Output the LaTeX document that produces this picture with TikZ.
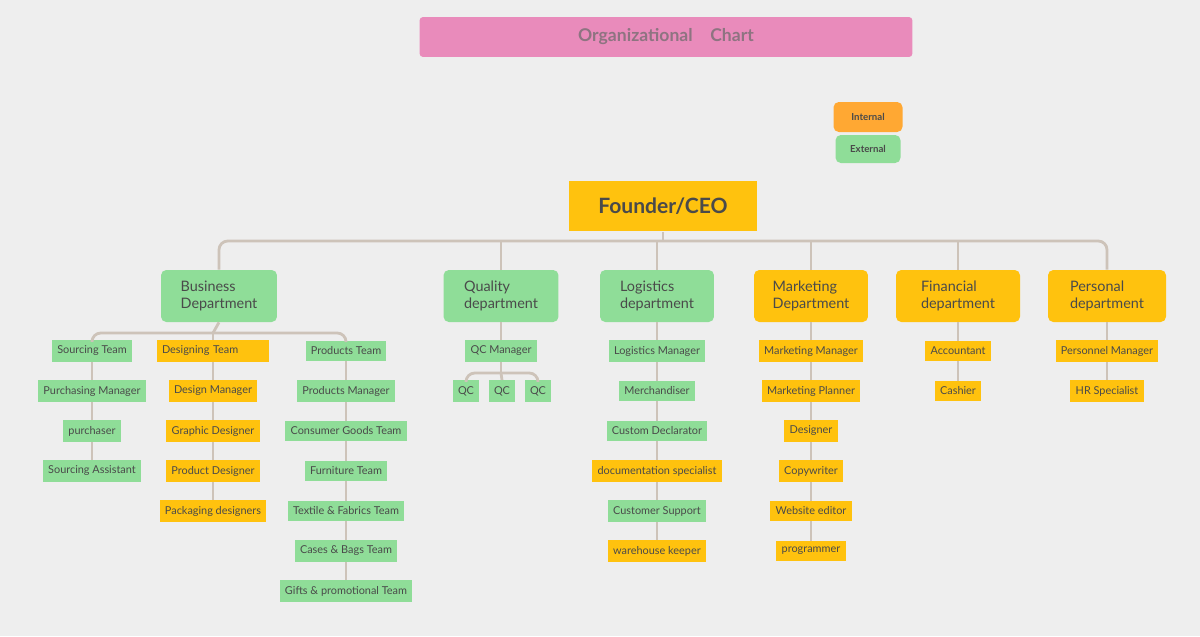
\documentclass[tikz,border=0pt]{standalone}
\usepackage{fontspec}
\setmainfont{Lato}
\definecolor{bg}{HTML}{EEEEEE}
\definecolor{gr}{HTML}{8FDD98}
\definecolor{ye}{HTML}{FFC20E}
\definecolor{orn}{HTML}{FFA833}
\definecolor{pk}{HTML}{E98BBB}
\definecolor{ln}{HTML}{CDC3B9}
\definecolor{tx}{HTML}{4A4A4A}
\begin{document}
\begin{tikzpicture}[x=0.02cm,y=-0.02cm,
  conn/.style={draw=ln,line width=1.6pt,rounded corners=5},
  sm/.style={inner xsep=3pt,minimum height=0.4cm,text=tx,font=\fontsize{6.2}{7}\selectfont},
  gb/.style={sm,fill=gr},
  yb/.style={sm,fill=ye},
  dep/.style={rounded corners=3pt,minimum height=1.04cm,text=tx,font=\fontsize{8.2}{10}\selectfont,align=left,inner xsep=8pt}]
\useasboundingbox[fill=bg] (0,0) rectangle (1200,636);
\node[fill=pk,rounded corners=2pt,minimum width=9.86cm,minimum height=0.8cm,text=pk!40!black!70,font=\bfseries\fontsize{10}{12}\selectfont] (title) at (666,37) {Organizational\quad Chart};
\node[fill=orn,rounded corners=3pt,minimum width=1.38cm,minimum height=0.6cm,text=tx,font=\bfseries\fontsize{5.5}{6}\selectfont] (int) at (868,117) {Internal};
\node[fill=gr,rounded corners=3pt,minimum width=1.3cm,minimum height=0.56cm,text=tx,font=\bfseries\fontsize{5.5}{6}\selectfont] (ext) at (868,149) {External};
\node[fill=ye,minimum width=3.76cm,minimum height=1.02cm,text=tx,font=\bfseries\fontsize{12}{14}\selectfont] (ceo) at (663,206) {Founder/CEO};
\node[dep,fill=gr,minimum width=2.32cm] (bd) at (219,296) {Business\\Department};
\node[dep,fill=gr,minimum width=2.3cm] (qd) at (501,296) {Quality\\department};
\node[dep,fill=gr,minimum width=2.28cm] (ld) at (657,296) {Logistics\\department};
\node[dep,fill=ye,minimum width=2.28cm] (md) at (811,296) {Marketing\\Department};
\node[dep,fill=ye,minimum width=2.48cm] (fd) at (958,296) {Financial\\department};
\node[dep,fill=ye,minimum width=2.36cm] (pd) at (1107,296) {Personal\\department};
\coordinate (cj) at (663,241);
\draw[conn] (ceo.south) -- (cj);
\draw[conn] (bd.north) |- (cj) -| (pd.north);
\foreach \d in {qd,ld,md,fd} \draw[conn] (\d.north) -- (\d.north|-cj);
% Business
\node[gb] (s1) at (92,351) {Sourcing Team};
\node[gb] (s2) at (92,391) {Purchasing Manager};
\node[gb] (s3) at (92,431) {purchaser};
\node[gb] (s4) at (92,471) {Sourcing Assistant};
\node[yb,text width=2.04cm,align=left] (d1) at (213,351) {Designing Team};
\node[yb] (d2) at (213,391) {Design Manager};
\node[yb] (d3) at (213,431) {Graphic Designer};
\node[yb] (d4) at (213,471) {Product Designer};
\node[yb] (d5) at (213,511) {Packaging designers};
\node[gb] (p1) at (346,351) {Products Team};
\node[gb] (p2) at (346,391) {Products Manager};
\node[gb] (p3) at (346,431) {Consumer Goods Team};
\node[gb] (p4) at (346,471) {Furniture Team};
\node[gb] (p5) at (346,511) {Textile \& Fabrics Team};
\node[gb] (p6) at (346,551) {Cases \& Bags Team};
\node[gb] (p7) at (346,591) {Gifts \& promotional Team};
\coordinate (bj) at (213,333);
\draw[conn] (bd.south) -- (bj);
\draw[conn] (s1.north) |- (bj) -| (p1.north);
\draw[conn] (bj) -- (d1.north);
\draw[conn] (s1) -- (s2) -- (s3) -- (s4);
\draw[conn] (d1) -- (d2) -- (d3) -- (d4) -- (d5);
\draw[conn] (p1) -- (p2) -- (p3) -- (p4) -- (p5) -- (p6) -- (p7);
% Quality
\node[gb] (q0) at (501,351) {QC Manager};
\node[gb] (q1) at (466,391) {QC};
\node[gb] (q2) at (502,391) {QC};
\node[gb] (q3) at (538,391) {QC};
\coordinate (qj) at (501,373);
\draw[conn] (qd) -- (q0);
\draw[conn] (q0) -- (qj);
\draw[conn] (q1.north) |- (qj) -| (q3.north);
\draw[conn] (qj) -- (q2.north);
% Logistics
\node[gb] (l1) at (657,351) {Logistics Manager};
\node[gb] (l2) at (657,391) {Merchandiser};
\node[gb] (l3) at (657,431) {Custom Declarator};
\node[yb] (l4) at (657,471) {documentation specialist};
\node[gb] (l5) at (657,511) {Customer Support};
\node[yb] (l6) at (657,551) {warehouse keeper};
\draw[conn] (ld) -- (l1) -- (l2) -- (l3) -- (l4) -- (l5) -- (l6);
% Marketing
\node[yb] (m1) at (811,351) {Marketing Manager};
\node[yb] (m2) at (811,391) {Marketing Planner};
\node[yb] (m3) at (811,431) {Designer};
\node[yb] (m4) at (811,471) {Copywriter};
\node[yb] (m5) at (811,511) {Website editor};
\node[yb] (m6) at (811,551) {programmer};
\draw[conn] (md) -- (m1) -- (m2) -- (m3) -- (m4) -- (m5) -- (m6);
% Financial
\node[yb] (f1) at (958,351) {Accountant};
\node[yb] (f2) at (958,391) {Cashier};
\draw[conn] (fd) -- (f1) -- (f2);
% Personal
\node[yb] (h1) at (1107,351) {Personnel Manager};
\node[yb] (h2) at (1107,391) {HR Specialist};
\draw[conn] (pd) -- (h1) -- (h2);
\end{tikzpicture}
\end{document}
